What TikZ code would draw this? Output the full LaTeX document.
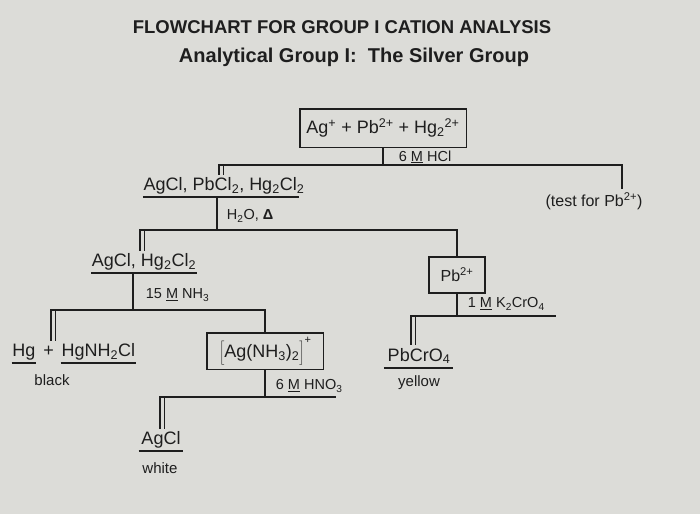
\documentclass[tikz,border=0pt]{standalone}
\usepackage{fontspec}
\setmainfont{Liberation Sans}
\usetikzlibrary{positioning}
\definecolor{paper}{RGB}{220,220,216}
\definecolor{ink}{RGB}{30,30,30}

\begin{document}
\begin{tikzpicture}[x=1pt, y=-1pt, line width=1.8pt, ink,
    chem/.style={inner sep=0pt, font=\fontsize{18}{20}\selectfont},
    cond/.style={inner sep=0pt, anchor=west, font=\fontsize{14.5}{16}\selectfont},
    hue/.style={inner sep=0pt, font=\fontsize{15}{17}\selectfont},
    ionbox/.style={inner sep=0pt},
    ppt/.style={double=paper, double distance=3pt, line width=1.6pt},
    uline/.style={yshift=-6.5pt}]
    % Paper
    \fill[paper] (0,0) rectangle (700,514);
    \useasboundingbox (0,0) rectangle (700,514);

    % Titles
    \node[inner sep=0pt, font=\bfseries\fontsize{18.5}{20}\selectfont] (title) at (342,27) {FLOWCHART FOR GROUP I CATION ANALYSIS};
    \node[inner sep=0pt, font=\bfseries\fontsize{20}{22}\selectfont] (subtitle) at (354,57) {Analytical Group I:\ \ The Silver Group};

    % Sample and 6 M HCl
    \node[ionbox, chem, minimum width=165pt, minimum height=37pt] (ions) at (383,128) {Ag\textsuperscript{+} + Pb\textsuperscript{2+} + Hg\textsubscript{2}\textsuperscript{2+}};
    \draw (ions.north west) rectangle (ions.south east);
    \coordinate (hcl) at (383,165);
    \coordinate (hcl-l) at (218,165);
    \coordinate (hcl-r) at (622,165);
    \node[cond] (hcl-lab) at (398,157) {6 \underline{M} HCl};
    \node[chem] (chlorides) at (224,186) {AgCl, PbCl\textsubscript{2}, Hg\textsubscript{2}Cl\textsubscript{2}};
    \node[hue, font=\fontsize{16}{18}\selectfont] (test) at (594,201) {(test for Pb\textsuperscript{2+})};
    \draw[ppt] ([shift={(3pt,0.9pt)}]hcl-l) -- ([xshift=3pt, yshift=2pt]hcl-l |- chlorides.north);
    \draw (ions) -- (hcl);
    \draw (hcl-l) -- (hcl-r) -- ([yshift=2pt]hcl-r |- test.north);
    \draw ([uline]chlorides.base west) -- ([uline, xshift=-6pt]chlorides.base east);

    % Hot water
    \coordinate (h2o) at (217,230);
    \coordinate (h2o-l) at (139,230);
    \coordinate (h2o-r) at (457,230);
    \node[cond] (h2o-lab) at (226,216) {H\textsubscript{2}O, {\bfseries Δ}};
    \node[chem] (chlorides2) at (144,262) {AgCl, Hg\textsubscript{2}Cl\textsubscript{2}};
    \node[ionbox, chem, font=\fontsize{16}{18}\selectfont, minimum width=54pt, minimum height=34pt] (lead) at (457,275) {Pb\textsuperscript{2+}};
    \draw (lead.north west) rectangle (lead.south east);
    \draw ([uline]chlorides.base -| h2o) -- (h2o);
    \draw[ppt] ([shift={(3pt,0.9pt)}]h2o-l) -- ([xshift=3pt, yshift=2pt]h2o-l |- chlorides2.north);
    \draw (h2o-l) -- (h2o-r) -- (lead);
    \draw ([uline]chlorides2.base west) -- ([uline]chlorides2.base east);

    % 15 M NH3
    \coordinate (nh3) at (133,310);
    \coordinate (nh3-l) at (50,310);
    \coordinate (nh3-r) at (265,310);
    \node[cond] (nh3-lab) at (145,295) {15 \underline{M} NH\textsubscript{3}};
    \node[chem] (hg) at (24,352) {Hg};
    \node[chem, base right=6pt of hg] (plus) {+};
    \node[chem, base right=6pt of plus] (amide) {HgNH\textsubscript{2}Cl};
    \node[hue] (black) at (52,380) {black};
    \node[ionbox, chem, minimum width=115pt, minimum height=35pt] (complex) at (265,351) {$\bigg[$Ag(NH\textsubscript{3})\textsubscript{2}$\bigg]$\raisebox{1.5ex}{\fontsize{11}{12}\selectfont +}};
    \draw (complex.north west) rectangle (complex.south east);
    \draw ([uline]chlorides2.base -| nh3) -- (nh3);
    \draw[ppt] ([shift={(3pt,0.9pt)}]nh3-l) -- ([xshift=3pt, yshift=2pt]nh3-l |- hg.north);
    \draw (nh3-l) -- (nh3-r) -- (complex);
    \draw ([uline]hg.base west) -- ([uline]hg.base east);
    \draw ([uline]amide.base west) -- ([uline]amide.base east);

    % 6 M HNO3
    \coordinate (hno3) at (265,397);
    \coordinate (hno3-l) at (159,397);
    \coordinate (hno3-r) at (336,397);
    \node[cond] (hno3-lab) at (275,386) {6 \underline{M} HNO\textsubscript{3}};
    \node[chem] (silver) at (161,440) {AgCl};
    \node[hue] (white) at (160,468) {white};
    \draw (complex) -- (hno3);
    \draw[ppt] ([shift={(3pt,0.9pt)}]hno3-l) -- ([xshift=3pt, yshift=2pt]hno3-l |- silver.north);
    \draw (hno3-l) -- (hno3-r);
    \draw ([uline, xshift=-2pt]silver.base west) -- ([uline, xshift=2pt]silver.base east);

    % 1 M K2CrO4
    \coordinate (crom) at (457,316);
    \coordinate (crom-l) at (410,316);
    \coordinate (crom-r) at (556,316);
    \node[cond] (crom-lab) at (467,304) {1 \underline{M} K\textsubscript{2}CrO\textsubscript{4}};
    \node[chem] (chromate) at (419,356) {PbCrO\textsubscript{4}};
    \node[hue] (yellow) at (419,383) {yellow};
    \draw (lead) -- (crom);
    \draw[ppt] ([shift={(3pt,0.9pt)}]crom-l) -- ([xshift=3pt, yshift=2pt]crom-l |- chromate.north);
    \draw (crom-l) -- (crom-r);
    \draw ([uline, xshift=-3pt]chromate.base west) -- ([uline, xshift=2pt]chromate.base east);
\end{tikzpicture}
\end{document}
